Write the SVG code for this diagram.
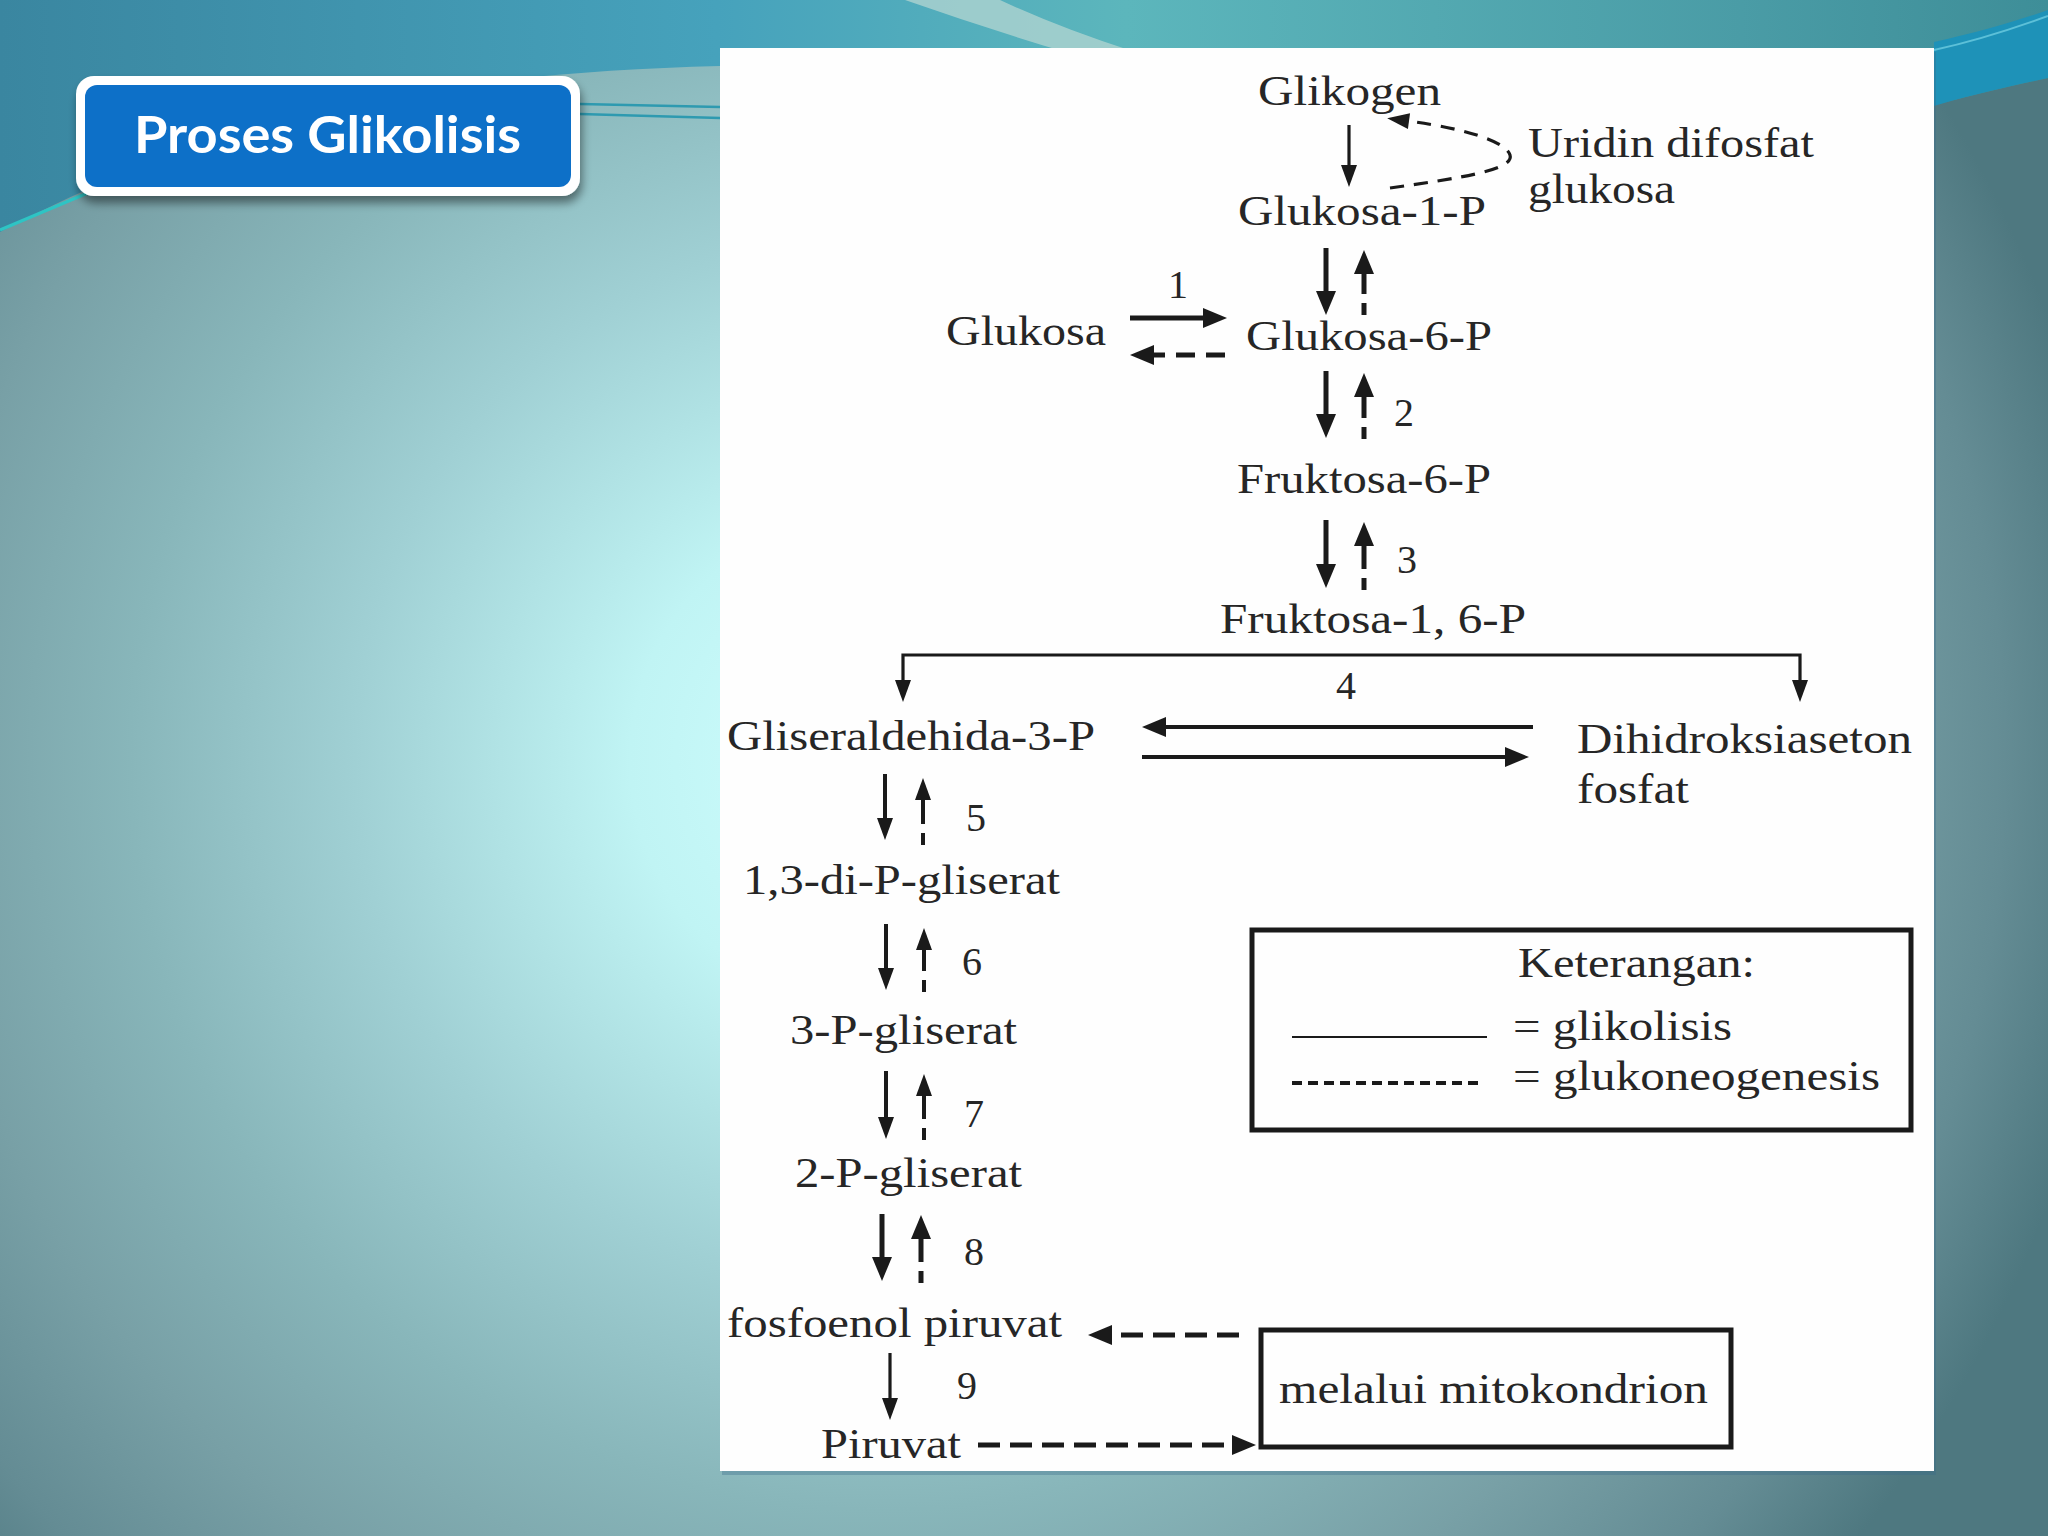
<svg xmlns="http://www.w3.org/2000/svg" width="2048" height="1536" viewBox="0 0 2048 1536">
<defs>
  <radialGradient id="bg" gradientUnits="userSpaceOnUse" cx="880" cy="760" r="1250">
    <stop offset="0" stop-color="#D0FFFF"/>
    <stop offset="0.2" stop-color="#C0F4F4"/>
    <stop offset="0.42" stop-color="#A0D0D4"/>
    <stop offset="0.6" stop-color="#88B6BA"/>
    <stop offset="0.76" stop-color="#78A0A6"/>
    <stop offset="0.9" stop-color="#648C94"/>
    <stop offset="1" stop-color="#4E7880"/>
  </radialGradient>
  <linearGradient id="band" x1="0" y1="0" x2="1" y2="0">
    <stop offset="0" stop-color="#3A86A0"/>
    <stop offset="0.35" stop-color="#46A2BC"/>
    <stop offset="0.55" stop-color="#5CB6BC"/>
    <stop offset="0.85" stop-color="#4A9CA6"/>
    <stop offset="1" stop-color="#3E8E98"/>
  </linearGradient>
  <filter id="sh" x="-10%" y="-20%" width="120%" height="160%">
    <feGaussianBlur in="SourceAlpha" stdDeviation="5"/>
    <feOffset dx="2" dy="7"/>
    <feComponentTransfer><feFuncA type="linear" slope="0.45"/></feComponentTransfer>
    <feMerge><feMergeNode/><feMergeNode in="SourceGraphic"/></feMerge>
  </filter>
  <marker id="hd" markerUnits="userSpaceOnUse" markerWidth="30" markerHeight="30" refX="1" refY="10" orient="auto" overflow="visible">
    <path d="M0,0 L24,10 L0,20 Z" fill="#1a1a1a"/>
  </marker>
  <marker id="hs" markerUnits="userSpaceOnUse" markerWidth="30" markerHeight="30" refX="1" refY="8" orient="auto" overflow="visible">
    <path d="M0,0 L22,8 L0,16 Z" fill="#1a1a1a"/>
  </marker>
  <style>
    .t { font-family: "Liberation Serif", "Times New Roman", serif; font-size: 42px; fill: #262626; }
    .n { font-family: "Liberation Serif", "Times New Roman", serif; font-size: 40px; fill: #262626; }
    .ln { fill: none; stroke: #1a1a1a; }
    .thk { stroke-width: 5; }
    .med { stroke-width: 4; }
    .thn { stroke-width: 3.2; }
    .up { stroke-dasharray: 12 9 60; }
    .box { fill: none; stroke: #1a1a1a; stroke-width: 5; }
  </style>
</defs>

<!-- background -->
<rect x="0" y="0" width="2048" height="1536" fill="url(#bg)"/>
<path d="M0,0 H2048 V78 C1990,90 1955,100 1930,106 L720,66 C560,70 420,86 300,115 C180,145 80,190 0,232 Z" fill="url(#band)"/>
<path d="M905,0 Q985,28 1065,52 L1135,52 Q1060,28 1000,0 Z" fill="#B4D6D2" opacity="0.75"/>
<path d="M1934,42 C1980,32 2020,20 2048,10 L2048,78 C2000,88 1960,98 1934,106 Z" fill="#1E92B8"/>
<path d="M1934,50 C1980,40 2015,28 2048,16" fill="none" stroke="#5CC0D8" stroke-width="2"/>
<path d="M0,230 L90,192" fill="none" stroke="#2EC4C4" stroke-width="3"/>
<path d="M580,104 L720,107 M580,114 L720,118" fill="none" stroke="#2E9AB0" stroke-width="2.5"/>

<!-- title -->
<g id="title" filter="url(#sh)">
  <rect x="76" y="76" width="504" height="120" rx="18" fill="#FFFFFF"/>
  <rect x="85" y="85" width="486" height="102" rx="12" fill="#1070C8"/>
  <text x="134" y="153" font-family="Lato, 'DejaVu Sans', sans-serif" font-weight="bold" font-size="52" fill="#FFFFFF" textLength="387" lengthAdjust="spacingAndGlyphs">Proses Glikolisis</text>
</g>

<!-- panel -->
<g id="panel">
  <rect x="722" y="52" width="1214" height="1423" fill="#3A6A8A" opacity="0.35"/>
  <rect x="720" y="48" width="1214" height="1423" fill="#FEFEFE"/>
</g>

<!-- nodes -->
<g id="n-glikogen"><text class="t" x="1258" y="105" textLength="183" lengthAdjust="spacingAndGlyphs">Glikogen</text></g>
<g id="n-udpg">
  <text class="t" x="1528" y="157" textLength="286" lengthAdjust="spacingAndGlyphs">Uridin difosfat</text>
  <text class="t" x="1528" y="203" textLength="147" lengthAdjust="spacingAndGlyphs">glukosa</text>
</g>
<g id="n-g1p"><text class="t" x="1238" y="225" textLength="248" lengthAdjust="spacingAndGlyphs">Glukosa-1-P</text></g>
<g id="n-glukosa"><text class="t" x="946" y="345" textLength="160" lengthAdjust="spacingAndGlyphs">Glukosa</text></g>
<g id="n-g6p"><text class="t" x="1246" y="350" textLength="246" lengthAdjust="spacingAndGlyphs">Glukosa-6-P</text></g>
<g id="n-f6p"><text class="t" x="1237" y="493" textLength="254" lengthAdjust="spacingAndGlyphs">Fruktosa-6-P</text></g>
<g id="n-f16p"><text class="t" x="1220" y="633" textLength="306" lengthAdjust="spacingAndGlyphs">Fruktosa-1, 6-P</text></g>
<g id="n-gap"><text class="t" x="727" y="750" textLength="368" lengthAdjust="spacingAndGlyphs">Gliseraldehida-3-P</text></g>
<g id="n-dhap">
  <text class="t" x="1577" y="753" textLength="335" lengthAdjust="spacingAndGlyphs">Dihidroksiaseton</text>
  <text class="t" x="1577" y="803" textLength="112" lengthAdjust="spacingAndGlyphs">fosfat</text>
</g>
<g id="n-13dpg"><text class="t" x="743" y="894" textLength="317" lengthAdjust="spacingAndGlyphs">1,3-di-P-gliserat</text></g>
<g id="n-3pg"><text class="t" x="790" y="1044" textLength="227" lengthAdjust="spacingAndGlyphs">3-P-gliserat</text></g>
<g id="n-2pg"><text class="t" x="795" y="1187" textLength="227" lengthAdjust="spacingAndGlyphs">2-P-gliserat</text></g>
<g id="n-pep"><text class="t" x="727" y="1337" textLength="335" lengthAdjust="spacingAndGlyphs">fosfoenol piruvat</text></g>
<g id="n-piruvat"><text class="t" x="821" y="1458" textLength="140" lengthAdjust="spacingAndGlyphs">Piruvat</text></g>
<g id="n-mito">
  <rect class="box" x="1261" y="1330" width="470" height="117"/>
  <text class="t" x="1279" y="1403" textLength="429" lengthAdjust="spacingAndGlyphs">melalui mitokondrion</text>
</g>
<g id="legend">
  <rect class="box" x="1252" y="930" width="659" height="200"/>
  <text class="t" x="1518" y="977" textLength="237" lengthAdjust="spacingAndGlyphs">Keterangan:</text>
  <path d="M1292,1037 H1487" fill="none" stroke="#1a1a1a" stroke-width="2"/>
  <text class="t" x="1513" y="1040" textLength="219" lengthAdjust="spacingAndGlyphs">= glikolisis</text>
  <path d="M1292,1083 H1484" fill="none" stroke="#1a1a1a" stroke-width="4" stroke-dasharray="10 6"/>
  <text class="t" x="1513" y="1090" textLength="367" lengthAdjust="spacingAndGlyphs">= glukoneogenesis</text>
</g>

<!-- step numbers -->
<g id="labels">
  <text class="n" x="1168" y="298">1</text>
  <text class="n" x="1394" y="426">2</text>
  <text class="n" x="1397" y="573">3</text>
  <text class="n" x="1336" y="699">4</text>
  <text class="n" x="966" y="831">5</text>
  <text class="n" x="962" y="975">6</text>
  <text class="n" x="964" y="1127">7</text>
  <text class="n" x="964" y="1265">8</text>
  <text class="n" x="957" y="1399">9</text>
</g>

<!-- connectors -->
<g id="connectors">
  <path class="ln thn" d="M1349,125 V166" marker-end="url(#hs)"/>
  <path class="ln thn" d="M1390,188 C1460,178 1515,170 1510,155 C1505,140 1460,128 1408,121" stroke-dasharray="14 10" marker-end="url(#hs)"/>
  <path class="ln thk" d="M1326,248 V292" marker-end="url(#hd)"/>
  <path class="ln thk up" d="M1364,315 V273" marker-end="url(#hd)"/>
  <path class="ln thk" d="M1130,318 H1204" marker-end="url(#hd)"/>
  <path class="ln thk" d="M1225,355 H1153" stroke-dasharray="19 11" marker-end="url(#hd)"/>
  <path class="ln thk" d="M1326,371 V415" marker-end="url(#hd)"/>
  <path class="ln thk up" d="M1364,439 V396" marker-end="url(#hd)"/>
  <path class="ln thk" d="M1326,520 V565" marker-end="url(#hd)"/>
  <path class="ln thk up" d="M1364,590 V545" marker-end="url(#hd)"/>
  <path class="ln thn" d="M1351,655 H903 V681" marker-end="url(#hs)"/>
  <path class="ln thn" d="M1351,655 H1800 V681" marker-end="url(#hs)"/>
  <path class="ln med" d="M1533,727 H1165" marker-end="url(#hd)"/>
  <path class="ln med" d="M1142,757 H1506" marker-end="url(#hd)"/>
  <path class="ln med" d="M885,774 V819" marker-end="url(#hs)"/>
  <path class="ln med up" d="M923,845 V799" marker-end="url(#hs)"/>
  <path class="ln med" d="M886,924 V969" marker-end="url(#hs)"/>
  <path class="ln med up" d="M924,992 V949" marker-end="url(#hs)"/>
  <path class="ln med" d="M886,1071 V1118" marker-end="url(#hs)"/>
  <path class="ln med up" d="M924,1140 V1095" marker-end="url(#hs)"/>
  <path class="ln thk" d="M882,1214 V1258" marker-end="url(#hd)"/>
  <path class="ln thk up" d="M921,1283 V1238" marker-end="url(#hd)"/>
  <path class="ln thk" d="M1239,1335 H1111" stroke-dasharray="22 10" marker-end="url(#hd)"/>
  <path class="ln thn" d="M890,1353 V1399" marker-end="url(#hs)"/>
  <path class="ln thk" d="M978,1445 H1233" stroke-dasharray="22 10" marker-end="url(#hd)"/>
</g>
</svg>
